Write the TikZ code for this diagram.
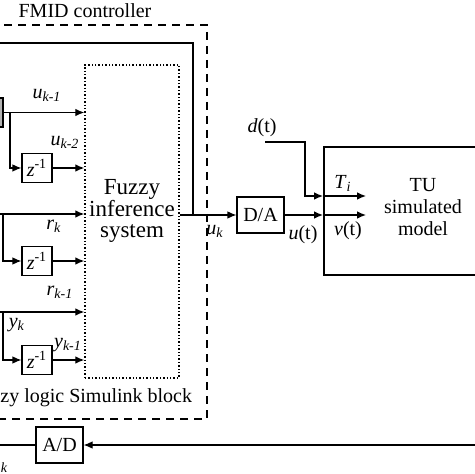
\documentclass[tikz,border=0pt]{standalone}
\usepackage{fontspec}
\setmainfont{Liberation Serif}
\usetikzlibrary{arrows.meta, positioning}
\newcommand{\sig}[2]{\textit{#1}\textsubscript{\textit{#2}}}
\newcommand{\zinv}{\textit{z}\textsuperscript{-1}}

\begin{document}
\begin{tikzpicture}[
  x=0.5pt, y=-0.5pt,
  font=\fontsize{10}{11}\selectfont,
  blk/.style={draw, line width=0.6pt, minimum width=23.5pt, minimum height=18pt, inner sep=1pt},
  dly/.style={draw, line width=0.6pt, minimum width=15pt, minimum height=14.5pt, inner sep=0pt},
  ar/.style={-{Latex[length=4.5pt, width=3.8pt]}, line width=0.6pt},
  ln/.style={line width=0.6pt},
  lbl/.style={inner sep=0pt}
]
\useasboundingbox (0,0) rectangle (474,474);
% controller frame
\draw[line width=1pt, dash pattern=on 4pt off 3pt] (-10,25) -| (207,419) -- (-10,419);
\node[lbl] (ctl) at (85,11) {FMID controller};
\node[lbl, anchor=west] (sim) at (0,398) {zy logic Simulink block};
% fuzzy inference system
\node[draw, densely dotted, line width=0.7pt, minimum width=47pt, minimum height=156.5pt] (fis) at (132,221.5) {};
\node[lbl, align=center, font=\fontsize{11.5}{10.8}\selectfont] (fistxt) at (132,211) {Fuzzy\\inference\\system};
% inputs and delays
\node[draw, fill=black!30, line width=0.6pt, minimum width=6.5pt, minimum height=14.5pt, inner sep=0pt] (mem) at (-3.5,112.5) {};
\coordinate (rin) at (-10,214);
\coordinate (yin) at (-10,312);
\coordinate (b1) at (10,113);
\coordinate (b2) at (3,214);
\coordinate (b3) at (3,312);
\node[dly] (z1) at (37,168) {\zinv};
\node[dly] (z2) at (37,261) {\zinv};
\node[dly] (z3) at (37,360) {\zinv};
\draw[ar] (mem.east) -- (fis.west |- mem.east);
\draw[ar] (rin) -- (fis.west |- rin);
\draw[ar] (yin) -- (fis.west |- yin);
\foreach \b/\z in {b1/z1, b2/z2, b3/z3}{
  \draw[ar] (\b) |- (\z.west);
  \draw[ar] (\z.east) -- (fis.west |- \z.east);
}
\node[lbl] (uk1) at (47,95) {\sig{u}{k-1}};
\node[lbl] (uk2) at (65,142) {\sig{u}{k-2}};
\node[lbl] (rk) at (54,226) {\sig{r}{k}};
\node[lbl] (rk1) at (60,292) {\sig{r}{k-1}};
\node[lbl] (yk) at (17,325) {\sig{y}{k}};
\node[lbl] (yk1) at (68,345) {\sig{y}{k-1}};
% output to the plant
\node[blk] (da) at (260.5,215) {D/A};
\coordinate (top) at (-10,43);
\coordinate (fb) at (193,215);
\draw[ar] (fis.east |- da) -- (da.west);
\draw[ln] (top) -| (fb);
\node[lbl] (uk) at (215,231) {\sig{u}{k}};
\node[draw, line width=1pt, anchor=north west, minimum width=83.5pt, minimum height=64pt] (tu) at (323,146) {};
\node[lbl, align=center] (tutxt) at (423,207) {TU\\simulated\\model};
\node[lbl] (d) at (262,128) {\textit{d}(t)};
\coordinate (dsrc) at (265,142);
\coordinate (dknee) at (305,196);
\coordinate (tiend) at (366,196);
\coordinate (vend) at (366,215);
\draw[ar] (da.east) -- (da.east -| tu.west);
\draw[ar] (da.east -| tu.west) -- (vend);
\draw[ar] (dsrc) -| (dknee) -- (tu.west |- dknee);
\draw[ar] (tu.west |- dknee) -- (tiend);
\node[lbl] (ut) at (303,235) {\textit{u}(t)};
\node[lbl] (ti) at (343,183) {\sig{T}{i}};
\node[lbl] (vt) at (348,231) {\textit{v}(t)};
% measured output
\node[blk] (ad) at (59.5,445) {A/D};
\coordinate (plant) at (490,445);
\coordinate (yout) at (-10,445);
\draw[ar] (plant) -- (ad.east);
\draw[ln] (ad.west) -- (yout);
\node[lbl, font=\scriptsize\itshape] (ykm) at (4,468) {k};
\end{tikzpicture}
\end{document}
